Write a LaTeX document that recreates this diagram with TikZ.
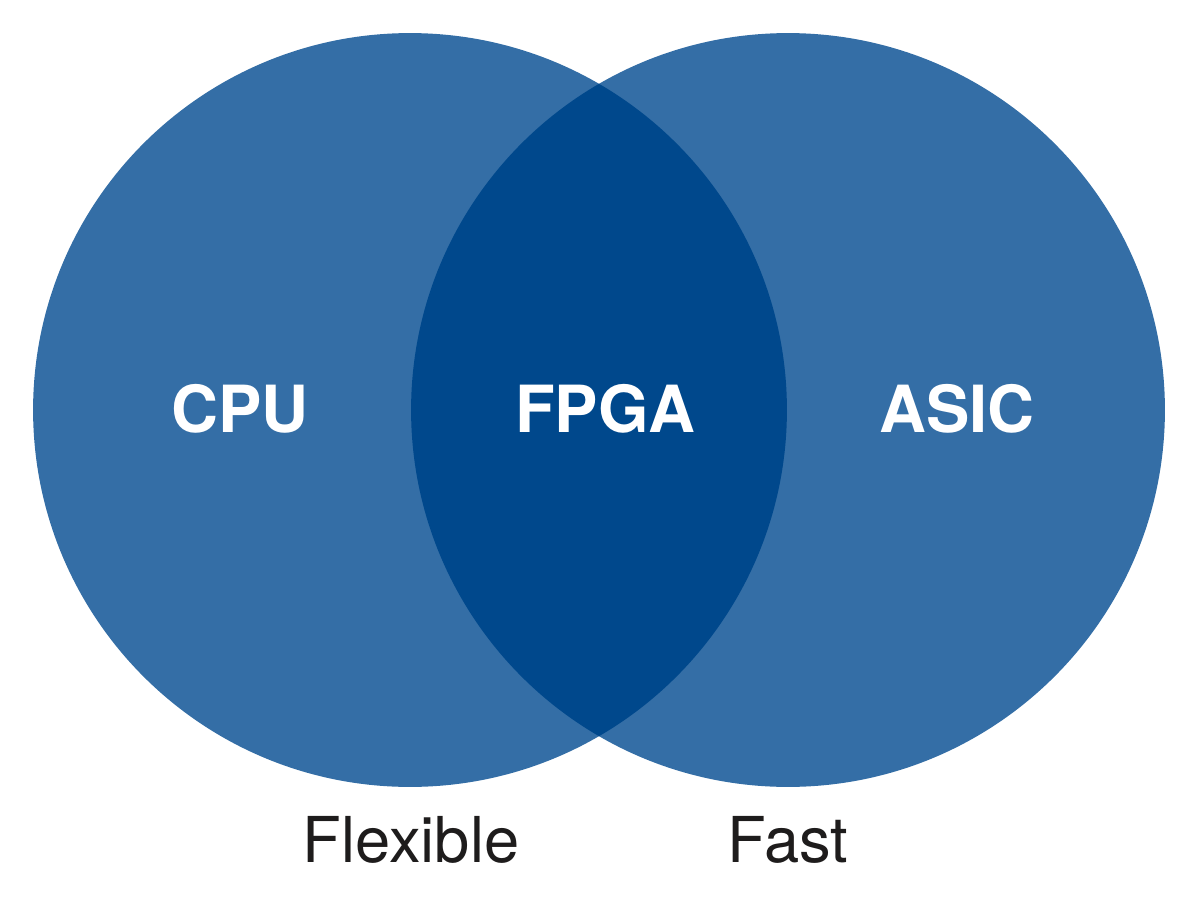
\documentclass[tikz,border=0pt]{standalone}
\usepackage{fontspec}
\setmainfont{TeX Gyre Heros}
\definecolor{setblue}{HTML}{346EA6}
\definecolor{coreblue}{HTML}{00488C}
\definecolor{textgray}{HTML}{1E1C1C}
\begin{document}
\begin{tikzpicture}[x=0.02cm,y=-0.02cm,
                    set node/.style={circle,fill=setblue,minimum size=15.08cm,inner sep=0pt},
                    name node/.style={anchor=base,text=white,font=\fontsize{37}{40}\selectfont\bfseries},
                    side node/.style={anchor=base,text=textgray,font=\fontsize{36}{40}\selectfont}]
             \useasboundingbox (0,0) rectangle (1200,899);
             \node[set node] (cpu) at (410,410) {};
             \node[set node] (asic) at (788,410) {};
             \begin{scope}
               \clip (cpu.center) circle (7.54cm);
               \fill[coreblue] (asic.center) circle (7.54cm);
             \end{scope}
             \node[name node] (CPU) at (240,432) {CPU};
             \node[name node] (FPGA) at (605,432) {FPGA};
             \node[name node] (ASIC) at (957,432) {ASIC};
             \node[side node] (flex) at (411,862) {Flexible};
             \node[side node] (fast) at (788,862) {Fast};
         \end{tikzpicture}
\end{document}
